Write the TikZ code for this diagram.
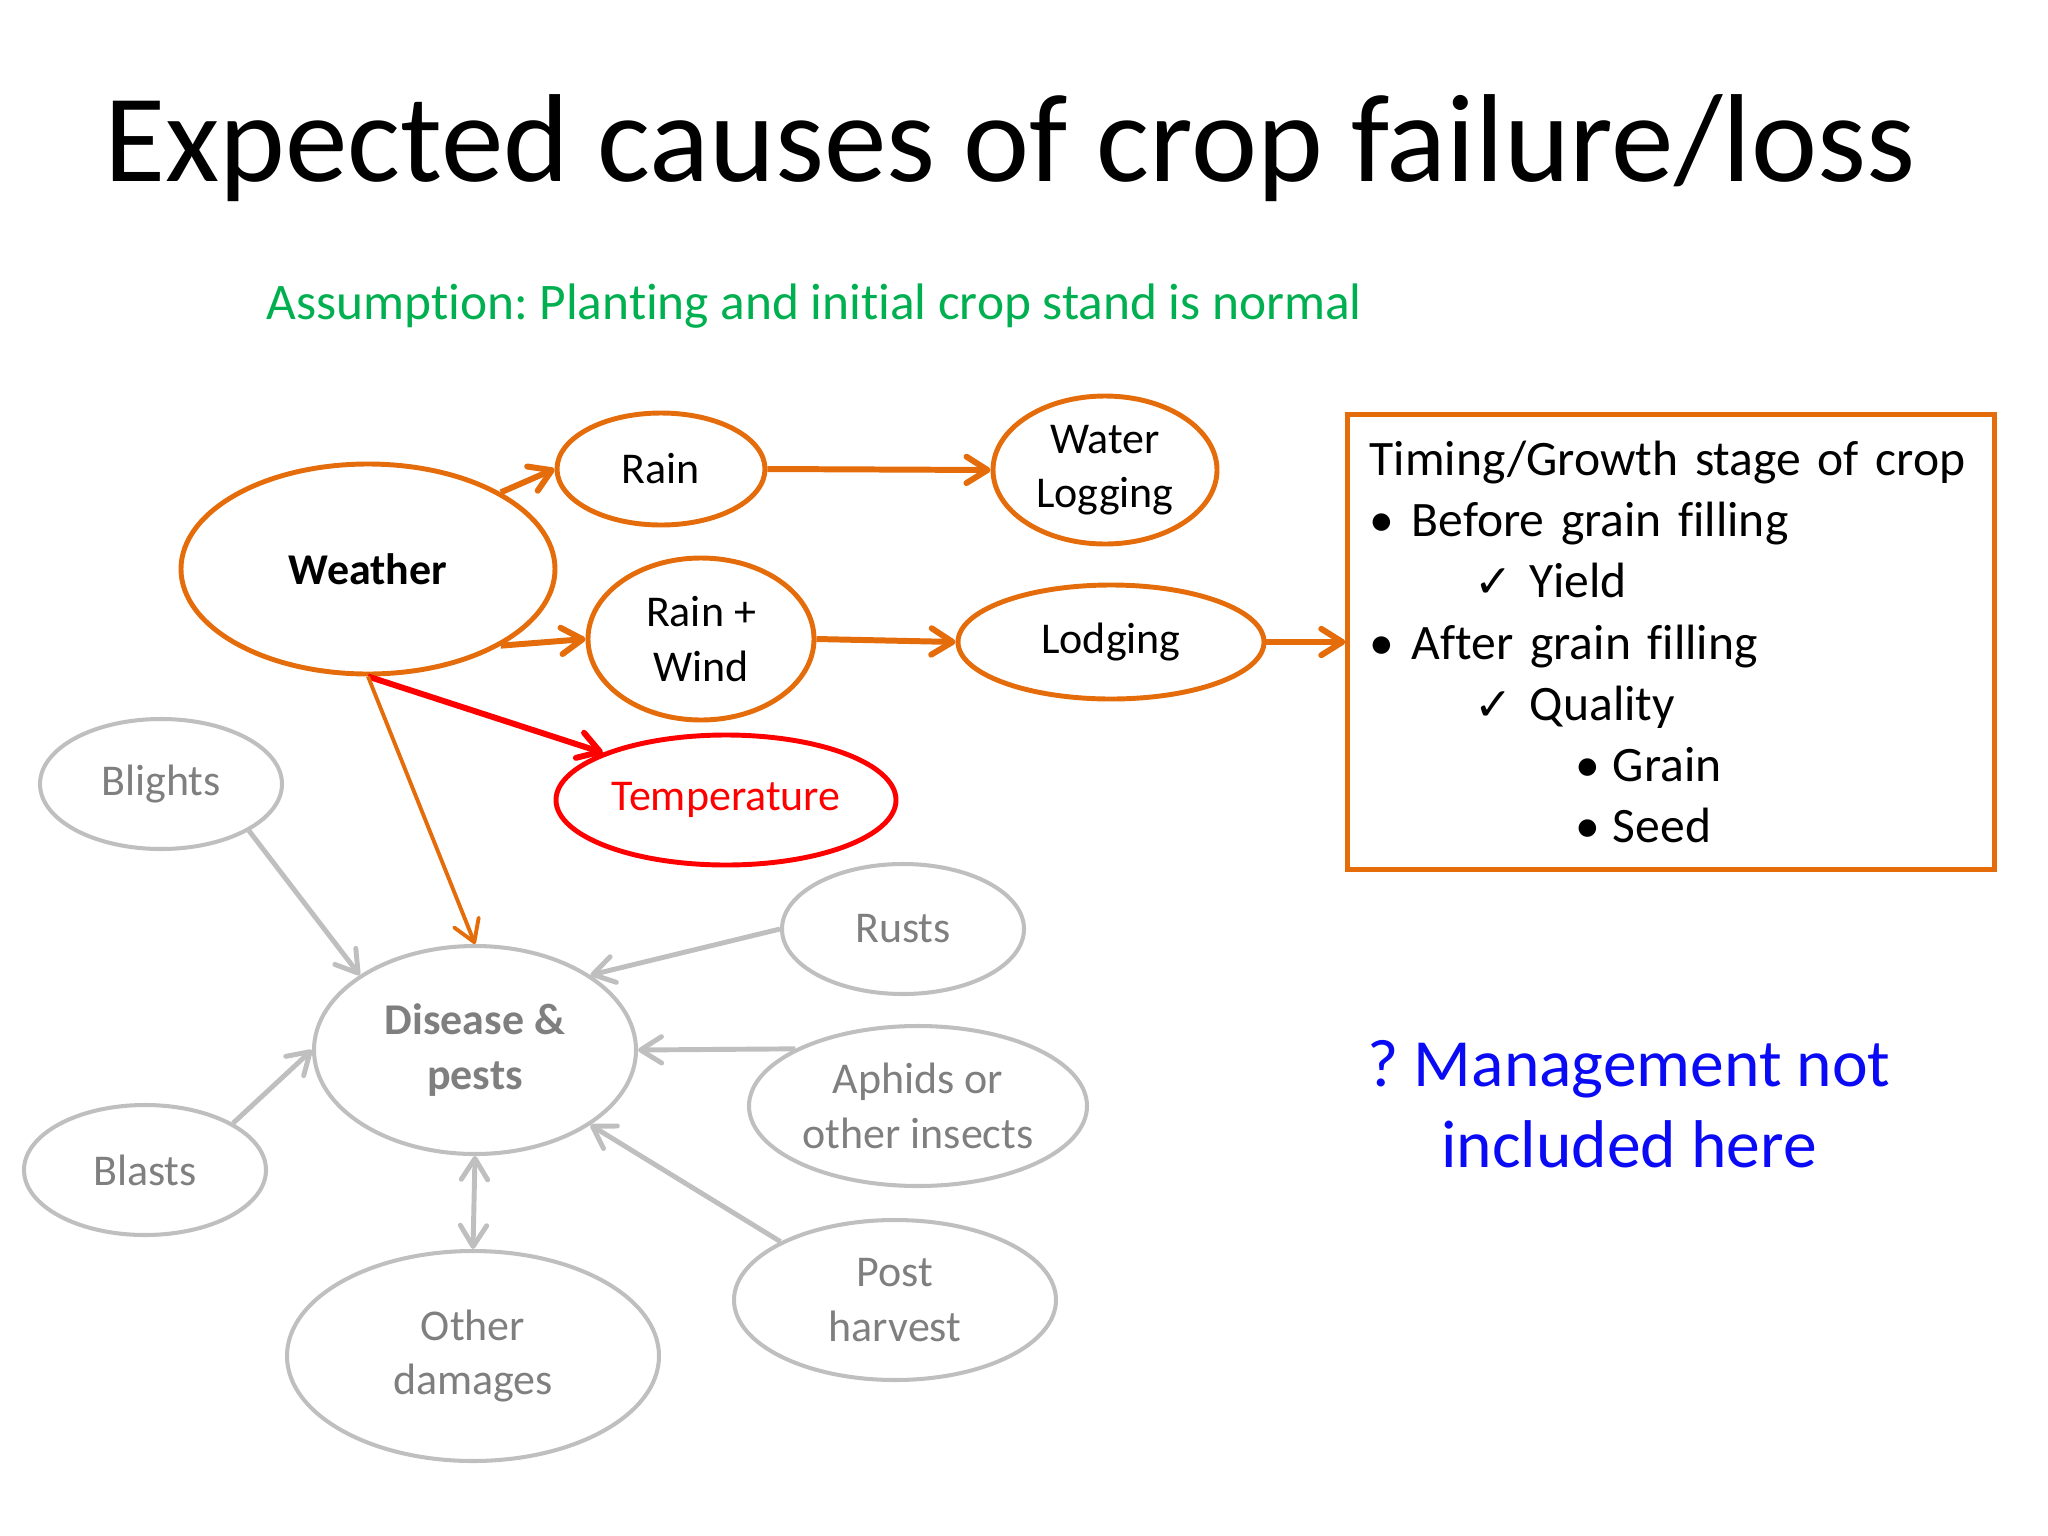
\documentclass[tikz,border=0pt]{standalone}
\usepackage{fontspec}
\setmainfont{Carlito}[Ligatures=NoCommon]
\newfontfamily\symfont{DejaVu Sans}
\usetikzlibrary{shapes.geometric,arrows.meta}
\definecolor{corange}{RGB}{228,108,10}
\definecolor{cgray}{RGB}{191,191,191}
\definecolor{ctext}{RGB}{127,127,127}
\definecolor{cgreen}{RGB}{0,176,80}
\definecolor{cblue}{RGB}{10,10,245}
\newcommand{\bul}[3]{\hspace*{#1}\makebox[#2][l]{#3}}
\frenchspacing
\begin{document}
\begin{tikzpicture}[x=0.01cm,y=-0.01cm,>={Straight Barb[length=6pt,width=7.5pt,round]},
	oval/.style 2 args={ellipse,inner sep=0pt,minimum width=#1*0.01cm,minimum height=#2*0.01cm,align=center,font=\fontsize{12.5}{15.5}\selectfont},
	main/.style={draw=corange,line width=1.4pt,text=black},
	minor/.style={draw=cgray,line width=1.15pt,text=ctext},
	hot/.style={draw=red,line width=1.4pt,text=red},
	link/.style={->,line width=1.7pt,corange},
	glink/.style={->,line width=1.4pt,cgray}]
	\useasboundingbox (0,0) rectangle (2048,1536);
	\node[anchor=base,font=\fontsize{35.6}{42}\selectfont] (title) at (1010,181) {Expected causes of crop failure/loss};
	\node[anchor=base west,inner sep=0pt,text=cgreen,font=\fontsize{14.6}{17}\selectfont] (assume) at (266,319) {Assumption: Planting and initial crop stand is normal};
	% weather branch
	\node[oval={374}{210},main,font=\fontsize{12.5}{15.5}\selectfont\bfseries] (weather) at (368,569) {Weather};
	\node[oval={208}{112},main] (rain) at (661,469) {Rain};
	\node[oval={224}{148},main] (water) at (1105,470) {Water\\Logging};
	\node[oval={226}{162},main] (rainwind) at (701,639) {Rain +\\Wind};
	\node[oval={306}{114},main] (lodging) at (1111,642) {Lodging};
	\node[oval={340}{130},hot] (temp) at (726,800) {Temperature};
	\node[draw=corange,line width=1.4pt,minimum width=6.46cm,minimum height=4.55cm,text width=6.02cm,inner xsep=0.22cm,align=left,font=\fontsize{14.1}{17.4}\selectfont] (stage) at (1671,642) {\mbox{Timing/Growth stage of crop}\\
		\bul{0cm}{0.42cm}{•}Before grain filling\\
		\bul{1.05cm}{0.55cm}{\symfont\fontsize{13}{15}\selectfont ✓}Yield\\
		\bul{0cm}{0.42cm}{•}After grain filling\\
		\bul{1.05cm}{0.55cm}{\symfont\fontsize{13}{15}\selectfont ✓}Quality\\
		\bul{2.06cm}{0.37cm}{•}Grain\\
		\bul{2.06cm}{0.37cm}{•}Seed};
	% pests
	\node[oval={322}{208},minor,font=\fontsize{12.5}{15.5}\selectfont\bfseries] (disease) at (475,1050) {Disease \&\\pests};
	\node[oval={242}{130},minor] (blights) at (161,784) {Blights};
	\node[oval={242}{130},minor] (rusts) at (903,929) {Rusts};
	\node[oval={338}{160},minor] (aphids) at (918,1106) {Aphids or\\other insects};
	\node[oval={242}{130},minor] (blasts) at (145,1170) {Blasts};
	\node[oval={322}{160},minor] (post) at (895,1300) {Post\\harvest};
	\node[oval={372}{210},minor] (other) at (473,1356) {Other\\damages};
	\node[align=center,text=cblue,font=\fontsize{19.2}{23}\selectfont] (mgmt) at (1629,1104) {? Management not\\included here};
	\draw[link] (weather.30) -- (rain.west);
	\draw[link] (rain.east) -- (water.west);
	\draw[link] (weather.-30) -- (rainwind.west);
	\draw[link] (rainwind.east) -- (lodging.west);
	\draw[link] (lodging.east) -- (stage.west);
	\draw[link,red] (weather.south) -- (temp.159);
	\draw[link,line width=1.1pt] (weather.south) -- (disease.north);
	\draw[glink] (blights.-28) -- (disease.147);
	\draw[glink] (rusts.west) -- (disease.33);
	\draw[glink] (aphids.155) -- (disease.east);
	\draw[glink] (blasts.28) -- (disease.west);
	\draw[glink] (post.153) -- (disease.-33);
	\draw[glink,<->] (disease.south) -- (other.north);
	%\draw[help lines] (0,0) grid[step=100] (2048,1536);
\end{tikzpicture}
\end{document}
